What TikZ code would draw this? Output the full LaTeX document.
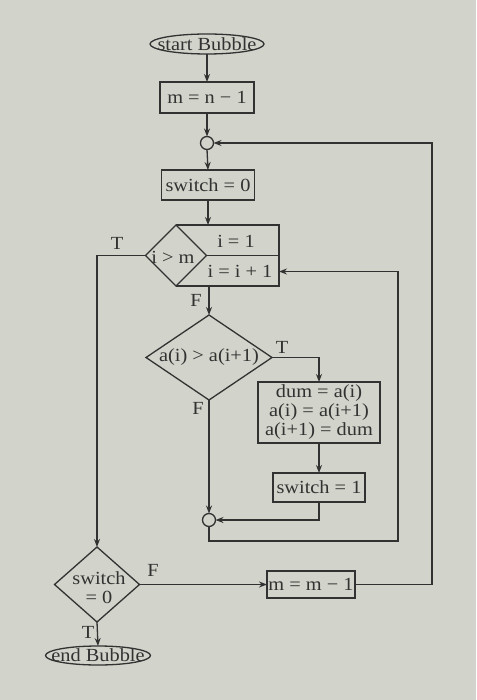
\documentclass[tikz,border=0pt]{standalone}
\usepackage{fontspec}
\setmainfont[FakeStretch=1.1]{Liberation Serif}
\usetikzlibrary{shapes.geometric,arrows.meta}
\definecolor{bg}{RGB}{210,211,202}
\definecolor{ink}{RGB}{50,50,50}
\begin{document}
\begin{tikzpicture}[x=1pt,y=-1pt,
  every node/.style={text=ink, font=\fontsize{18.5}{19}\selectfont},
  line/.style={draw=ink, line width=1.3pt},
  arr/.style={line, -{Stealth[length=8pt,width=6pt]}},
  proc/.style={draw=ink, line width=1.3pt, rectangle, inner sep=0pt, outer sep=0pt},
  term/.style={draw=ink, line width=1.3pt, ellipse, inner sep=0pt, outer sep=0pt},
  dia/.style={draw=ink, line width=1.3pt, diamond, inner sep=0pt, outer sep=0pt},
  junc/.style={draw=ink, line width=1.3pt, circle, minimum size=13pt, inner sep=0pt, outer sep=0pt},
  lbl/.style={inner sep=0pt},
]
\fill[bg] (0,0) rectangle (476,700);
\useasboundingbox (0,0) rectangle (476,700);

% terminals
\node[term, minimum width=114pt, minimum height=20pt] (start) at (207,44) {};
\node[lbl] (startT) at (start) {start Bubble};
\node[term, minimum width=105pt, minimum height=19pt] (endE) at (98,655.5) {};
\node[lbl] (endT) at (endE) {end Bubble};

% processes
\node[proc, minimum width=94pt, minimum height=31pt] (mn) at (207,97.5) {m = n − 1};
\node[junc] (j1) at (207,143) {};
\node[proc, minimum width=93pt, minimum height=30pt] (sw0) at (208,185) {switch = 0};

% loop block
\node[dia, minimum width=61pt, minimum height=61pt] (imd) at (176,255.5) {};
\node[lbl] (imdT) at (173,257) {i > m};
\node[inner sep=0pt, outer sep=0pt, minimum width=103pt, minimum height=61pt] (loopbox) at (227.5,255.5) {};
\node[lbl] (init) at (236,241) {i = 1};
\node[lbl] (incr) at (240,271.5) {i = i + 1};
\draw[line] (imd.east) -- (loopbox.east);
\draw[line] (imd.north) -- (loopbox.north east) -- (loopbox.south east) -- (imd.south);

% comparison
\node[dia, minimum width=126pt, minimum height=85pt] (adiam) at (209,357.5) {};
\node[lbl] (adiamT) at (adiam) {a(i) > a(i+1)};
\node[proc, minimum width=122pt, minimum height=61pt, align=center] (dum) at (319,412.5) {dum = a(i)\\a(i) = a(i+1)\\a(i+1) = dum};
\node[proc, minimum width=92pt, minimum height=29pt] (sw1) at (319,487.5) {switch = 1};
\node[junc] (j2) at (209,520) {};

% switch test
\node[dia, minimum width=85pt, minimum height=75pt] (swd) at (97,584.5) {};
\node[lbl, align=center] (swdT) at (99,588) {switch\\= 0};
\node[proc, minimum width=88pt, minimum height=27pt] (mm) at (311,584.5) {m = m − 1};

\coordinate (rb) at (398,541);
\coordinate (rt) at (432,143);

% connectors
\draw[arr] (start.south) -- (mn.north);
\draw[arr] (mn.south) -- (j1.north);
\draw[arr] (j1.south) -- (sw0.north);
\draw[arr] (sw0.south) -- (sw0.south |- loopbox.north);
\draw[arr] (adiam.north |- loopbox.south) -- (adiam.north);
\draw[arr] (imd.west) -| (swd.north);
\draw[arr] (adiam.east) -| (dum.north);
\draw[arr] (dum.south) -- (sw1.north);
\draw[arr] (adiam.south) -- (j2.north);
\draw[arr] (sw1.south) |- (j2.east);
\draw[arr] (j2.south) |- (rb) |- (loopbox.east |- incr);
\draw[arr] (swd.east) -- (mm.west);
\draw[arr] (mm.east) -| (rt) -- (j1.east);
\draw[arr] (swd.south) -- (endE.north);

% branch labels
\node[lbl] (t1) at (117,243) {T};
\node[lbl] (f1) at (196,300) {F};
\node[lbl] (t2) at (282,347) {T};
\node[lbl] (f2) at (198,408) {F};
\node[lbl] (f3) at (153,570) {F};
\node[lbl] (t3) at (88,632) {T};
\end{tikzpicture}
\end{document}
